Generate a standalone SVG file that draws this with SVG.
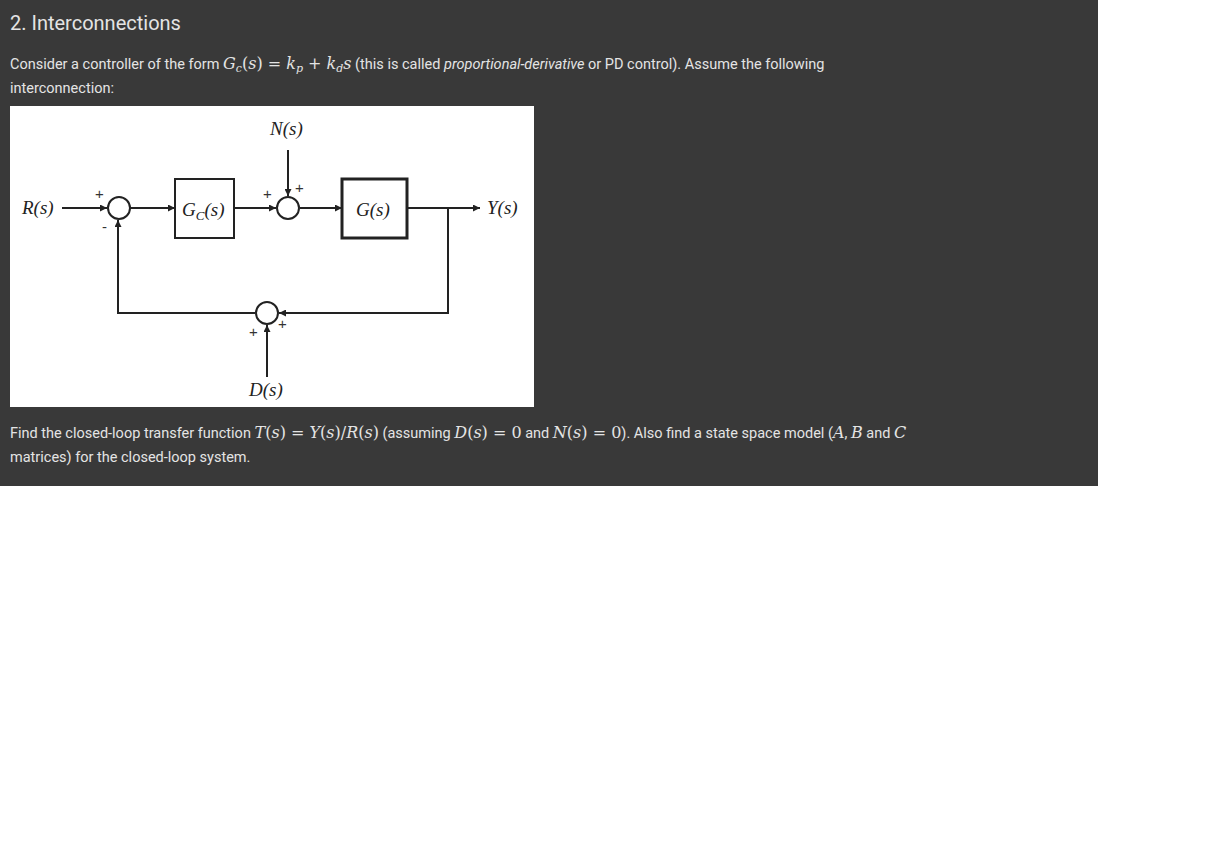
<svg xmlns="http://www.w3.org/2000/svg" width="1215" height="864" viewBox="0 0 1215 864">
<style>
.t{font-family:Roboto,"Liberation Sans",sans-serif;fill:#e4e4e4;font-size:14.5px}
.m{font-family:"DejaVu Serif","Liberation Serif",serif;font-style:italic}
.d{font-family:"Liberation Serif",serif;font-style:italic;font-size:19px;fill:#222}
.s{font-family:"Liberation Sans",sans-serif;font-size:15px;fill:#333}
.ln{stroke:#222;stroke-width:2;fill:none}
.c{fill:#fff;stroke:#222;stroke-width:2}
</style>
<defs><marker id="a" viewBox="0 0 10 10" refX="10" refY="5" markerWidth="7" markerHeight="7" markerUnits="userSpaceOnUse" orient="auto"><path d="M0,0L10,5L0,10z" fill="#222"/></marker></defs>
<rect width="1215" height="864" fill="#fff"/>
<rect width="1098" height="486" fill="#393939"/>
<text x="10" y="30" class="t" style="font-size:20px">2. Interconnections</text>
<text x="10" y="69" class="t">Consider a controller of the form <tspan class="m" font-size="16">G<tspan font-size="11" dy="3">c</tspan><tspan dy="-3" font-style="normal">(</tspan>s<tspan font-style="normal">) = </tspan>k<tspan font-size="11" dy="3">p</tspan><tspan dy="-3" font-style="normal"> + </tspan>k<tspan font-size="11" dy="3">d</tspan><tspan dy="-3">s</tspan></tspan> (this is called <tspan font-style="italic">proportional-derivative</tspan> or PD control). Assume the following</text>
<text x="10" y="93" class="t">interconnection:</text>
<rect x="10" y="106" width="524" height="301" fill="#fff"/>
<g id="connectors">
<line class="ln" x1="62" y1="208" x2="107" y2="208" marker-end="url(#a)"/>
<line class="ln" x1="130" y1="208" x2="175" y2="208" marker-end="url(#a)"/>
<line class="ln" x1="234" y1="208" x2="276" y2="208" marker-end="url(#a)"/>
<line class="ln" x1="288" y1="150" x2="288" y2="196" marker-end="url(#a)"/>
<line class="ln" x1="300" y1="208" x2="342" y2="208" marker-end="url(#a)"/>
<line class="ln" x1="407" y1="208" x2="480" y2="208" marker-end="url(#a)"/>
<polyline class="ln" points="448,208 448,313 279,313" marker-end="url(#a)"/>
<polyline class="ln" points="255,313 118,313 118,220" marker-end="url(#a)"/>
<line class="ln" x1="267" y1="377" x2="267" y2="325" marker-end="url(#a)"/>
</g>
<g id="sum1"><circle class="c" cx="119" cy="208" r="11"/><text class="s" x="95" y="199">+</text><text class="s" x="102" y="232">-</text></g>
<g id="gc"><rect x="175" y="179" width="59" height="59" fill="#fff" stroke="#222" stroke-width="2"/><text class="d" x="182" y="216">G<tspan font-size="13" dy="4">C</tspan><tspan dy="-4">(s)</tspan></text></g>
<g id="sum2"><circle class="c" cx="288" cy="208" r="11"/><text class="s" x="263" y="199">+</text><text class="s" x="295" y="193">+</text></g>
<g id="g"><rect x="342" y="179" width="65" height="59" fill="#fff" stroke="#222" stroke-width="3"/><text class="d" x="356" y="216">G(s)</text></g>
<g id="sum3"><circle class="c" cx="267" cy="313" r="11"/><text class="s" x="249" y="337">+</text><text class="s" x="278" y="329">+</text></g>
<g id="labels">
<text class="d" x="22" y="214">R(s)</text>
<text class="d" x="487" y="214">Y(s)</text>
<text class="d" x="270" y="135">N(s)</text>
<text class="d" x="249" y="396">D(s)</text>
</g>
<text x="10" y="438" class="t">Find the closed-loop transfer function <tspan class="m" font-size="16">T<tspan font-style="normal">(</tspan>s<tspan font-style="normal">) = </tspan>Y<tspan font-style="normal">(</tspan>s<tspan font-style="normal">)/</tspan>R<tspan font-style="normal">(</tspan>s<tspan font-style="normal">)</tspan></tspan> (assuming <tspan class="m" font-size="16">D<tspan font-style="normal">(</tspan>s<tspan font-style="normal">) = 0</tspan></tspan> and <tspan class="m" font-size="16">N<tspan font-style="normal">(</tspan>s<tspan font-style="normal">) = 0</tspan></tspan>). Also find a state space model (<tspan class="m" font-size="16">A</tspan>, <tspan class="m" font-size="16">B</tspan> and <tspan class="m" font-size="16">C</tspan></text>
<text x="10" y="462" class="t">matrices) for the closed-loop system.</text>
</svg>
